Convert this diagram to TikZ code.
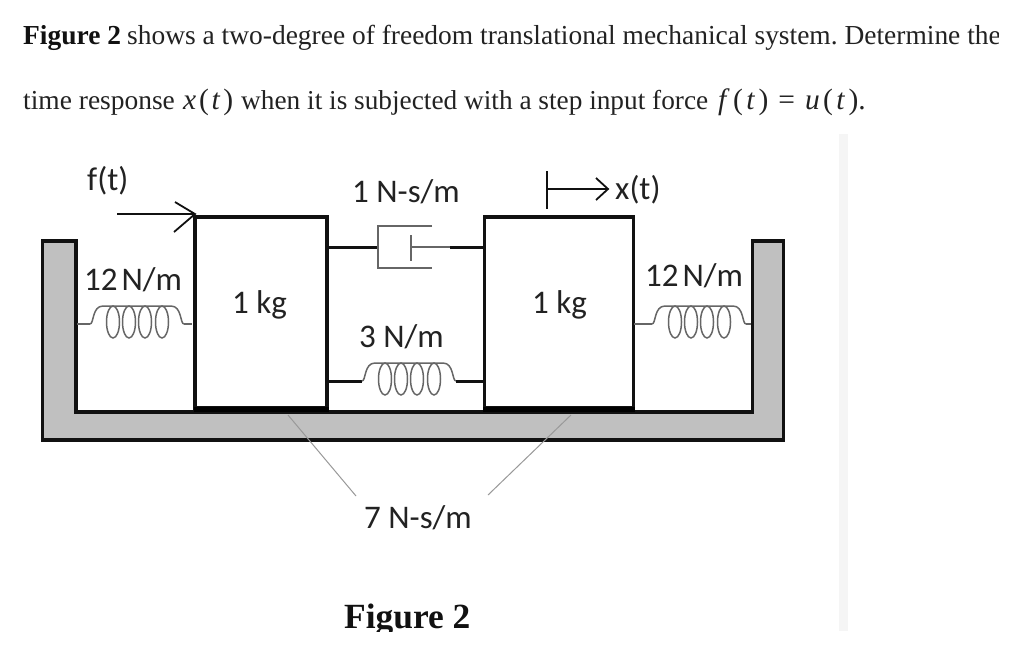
\documentclass[tikz,border=0pt]{standalone}
\usepackage{fontspec}
\setmainfont{Liberation Serif}
\newfontfamily\labfont{Carlito}
\definecolor{wallgray}{HTML}{C0C0C0}
\definecolor{stripgray}{HTML}{F5F5F5}
\definecolor{coilgray}{HTML}{666666}
\definecolor{inkblack}{HTML}{111111}
\definecolor{textgray}{HTML}{222222}
\newcommand{\mk}{\kern2.8pt}
\newcommand{\mkk}{\kern3.4pt}
\tikzset{
  para/.style={anchor=base west,inner sep=0pt,text=textgray,font=\frenchspacing\fontsize{27.45}{30}\selectfont},
  paranarrow/.style={para,font=\frenchspacing\fontsize{27.3}{30}\selectfont},
  parab/.style={anchor=base west,inner sep=0pt,text=inkblack,font=\bfseries\fontsize{27.45}{30}\selectfont},
  mathy/.style={anchor=base west,inner sep=0pt,text=textgray,font=\fontsize{29.5}{31}\selectfont},
  lab/.style={anchor=base west,inner sep=0pt,text=textgray,font=\labfont\fontsize{33}{35}\selectfont},
  massbox/.style={draw=inkblack,line width=3.2pt,fill=white,inner sep=0pt,outer sep=0pt,anchor=north west},
  heavy/.style={draw=inkblack,line width=3pt},
  thinl/.style={draw=coilgray,line width=1.5pt},
  arrowl/.style={draw=inkblack,line width=1.8pt},
  pointer/.style={draw=gray!80,line width=1pt},
  pics/coil/.style={code={
    \draw[thinl] (0,0) .. controls (4,0) and (2,-18) .. (13,-18) -- (81,-18) .. controls (92,-18) and (90,0) .. (94,0);
    \foreach \cx in {23,39,55,72}{\draw[thinl] (\cx,-2) ellipse [x radius=6.5pt,y radius=16pt];}
  }}
}
\begin{document}
\begin{tikzpicture}[x=1pt,y=-1pt]
\useasboundingbox (0,0) rectangle (1024,646);
\fill[white] (0,0) rectangle (1024,646);
\fill[stripgray] (839,134) rectangle (848,631);
% paragraph
\begin{scope}
\clip (0,0) rectangle (998,130);
\node[parab] (figb) at (23,44) {Figure 2};
\node[para] (l1) at (127,44) {shows a two-degree of freedom translational mechanical system. Determine the};
\end{scope}
\node[para] (l2a) at (23,109) {time response};
\node[mathy] (l2b) at (183,109) {\textit{x}\mk(\mk\textit{t}\mk)};
\node[paranarrow] (l2c) at (241,109) {when it is subjected with a step input force};
\node[mathy] (l2d) at (718,109) {\textit{f}\mkk(\mkk\textit{t}\mkk)\kern10pt=\kern10pt\textit{u}\mkk(\mkk\textit{t}\mkk).};
% base
\draw[draw=inkblack,line width=3.5pt,fill=wallgray,line join=miter] (42.5,241) -- (76,241) -- (76,412) -- (752.5,412) -- (752.5,241) -- (783.5,241) -- (783.5,440) -- (42.5,440) -- cycle;
% pointers
\coordinate (pl0) at (288,415);
\coordinate (pl1) at (356,496);
\coordinate (pr0) at (571,415);
\coordinate (pr1) at (488,495);
\draw[pointer] (pl0) -- (pl1);
\draw[pointer] (pr0) -- (pr1);
% masses
\node[massbox,minimum width=132pt,minimum height=191pt] (m1) at (195,217) {};
\node[massbox,minimum width=149pt,minimum height=191pt] (m2) at (484.5,217) {};
\draw[draw=black,line width=5pt] (193.5,409.5) -- (328.5,409.5);
\draw[draw=black,line width=5pt] (483,409.5) -- (635,409.5);
\node[lab] (mlab1) at (232,313) {1 kg};
\node[lab] (mlab2) at (532,313) {1 kg};
% coils
\coordinate (s1a) at (77,324);
\coordinate (s1b) at (90,324);
\coordinate (s1c) at (184,324);
\coordinate (s1d) at (192,324);
\draw[thinl] (s1a) -- (s1b);
\pic at (s1b) {coil};
\draw[thinl] (s1c) -- (s1d);
\coordinate (s2b) at (362,381);
\coordinate (s2c) at (456,381);
\draw[heavy] (m1.east |- s2b) -- (s2b);
\pic at (s2b) {coil};
\draw[heavy] (s2c) -- (m2.west |- s2c);
\coordinate (s3a) at (634,324);
\coordinate (s3b) at (652,324);
\coordinate (s3c) at (746,324);
\coordinate (s3d) at (751,324);
\draw[thinl] (s3a) -- (s3b);
\pic at (s3b) {coil};
\draw[thinl] (s3c) -- (s3d);
% damper
\coordinate (d0) at (378,247);
\coordinate (dp) at (411,247);
\coordinate (d1) at (450,247);
\draw[heavy] (m1.east |- d0) -- (d0);
\draw[thinl] (432,226) -- (378,226) -- (378,268) -- (432,268);
\draw[thinl] (411,235) -- (411,261);
\draw[thinl] (dp) -- (d1);
\draw[heavy] (d1) -- (m2.west |- d1);
% force arrow
\coordinate (f0) at (117,214);
\coordinate (f1) at (195,214);
\draw[arrowl] (f0) -- (f1);
\draw[arrowl] (175,202) -- (f1) -- (174,232);
% displacement
\coordinate (x0) at (547,189);
\coordinate (x1) at (608,189);
\draw[arrowl] (547,171) -- (547,209);
\draw[arrowl] (x0) -- (x1);
\draw[arrowl] (596,178) -- (x1) -- (596,200);
% labels
\node[lab] (lf) at (87,190) {f(t)};
\node[lab] (lx) at (615,199) {x(t)};
\node[lab] (ld1) at (352,202) {1 N-s/m};
\node[lab] (lk1) at (84,290) {12\kern4pt N/m};
\node[lab] (lk2) at (645,286) {12\kern4pt N/m};
\node[lab] (lk3) at (359,347) {3 N/m};
\node[lab] (ld2) at (364,528) {7 N-s/m};
% caption, cut by the lower edge
\begin{scope}
\clip (0,590) rectangle (1024,631);
\node[parab,font=\bfseries\fontsize{35.4}{37}\selectfont] (cap) at (344,628) {Figure 2};
\end{scope}
\end{tikzpicture}
\end{document}
